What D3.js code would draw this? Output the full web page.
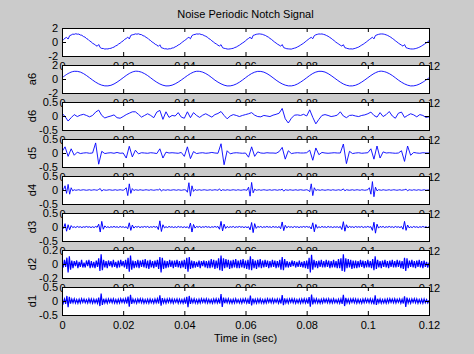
<!DOCTYPE html>
<html>
<head>
<meta charset="utf-8">
<script src="https://cdn.jsdelivr.net/npm/d3@7"></script>
<style>
  body { margin: 0; background: #cbcbcb; }
  svg { display: block; }
</style>
</head>
<body>
<div id="chart"></div>
<script>
// DATA
var tEnd = 0.12
var xTicks = [0, 0.02, 0.04, 0.06, 0.08, 0.1, 0.12]
var yTicksBig = [-2, 0, 2]
var yTicksHalf = [-0.5, 0, 0.5]
var yTicksD2 = [-0.2, 0, 0.2]

// original signal, one sample every 0.0005 s
var sig = [
  .20,.34,.55,.66,.42,.90,1.00,1.12,1.10,1.18,1.12,1.13,1.00,.96,.78,.70,.50,.38,.16,.03,-.18,-.30,-.47,-.60,-.36,-.80,-.92,-.93,-1.01,-.98,-.99,-.93,-.90,-.80,-.73,-.57,-.48,-.29,-.17,.02,
  .16,.38,.50,.70,.44,.95,1.03,1.07,1.16,1.12,1.17,1.08,1.05,.90,.83,.66,.55,.33,.20,-.02,-.14,-.33,-.43,-.62,-.40,-.83,-.88,-.97,-.97,-1.02,-.97,-.96,-.86,-.83,-.69,-.60,-.43,-.33,-.14,.03,
  .19,.35,.54,.67,.46,.92,1.04,1.08,1.15,1.13,1.16,1.07,1.04,.91,.82,.69,.50,.37,.17,.01,-.17,-.29,-.46,-.57,-.38,-.82,-.90,-.94,-1.00,-1.01,-.98,-.94,-.90,-.79,-.72,-.58,-.46,-.30,-.15,-.01,
  .17,.37,.51,.69,.43,.94,1.01,1.10,1.13,1.16,1.13,1.10,1.01,.94,.80,.69,.51,.37,.18,.00,-.15,-.32,-.44,-.60,-.37,-.81,-.89,-.96,-.98,-1.00,-1.01,-.94,-.88,-.82,-.70,-.59,-.45,-.31,-.17,.01,
  .19,.36,.53,.66,.47,.91,1.03,1.09,1.15,1.13,1.15,1.09,1.03,.92,.82,.67,.53,.35,.19,-.01,-.16,-.30,-.46,-.58,-.39,-.82,-.88,-.95,-.99,-.98,-1.00,-.95,-.89,-.80,-.72,-.58,-.44,-.32,-.16,.00,
  .18,.35,.52,.68,.45,.93,1.02,1.09,1.14,1.15,1.14,1.09,1.02,.93,.81,.68,.52,.36,.18,.02,-.16,-.31,-.45,-.59,-.37,-.81,-.89,-.95,-.99,-1.00,-.99,-.95,-.89,-.81,-.71,-.59,-.45,-.31,-.16,.00,
  .18
]

// approximation a6, every 0.002 s
var a6 = [
  .17,.78,1.10,.99,.50,-.15,-.70,-.98,-.90,-.45,
  .18,.79,1.11,.97,.49,-.17,-.71,-.99,-.88,-.44,
  .17,.77,1.10,.98,.51,-.16,-.69,-.99,-.89,-.46,
  .18,.78,1.09,.98,.50,-.16,-.70,-.98,-.90,-.45,
  .17,.79,1.10,.99,.49,-.15,-.71,-.99,-.89,-.44,
  .18,.78,1.11,.97,.50,-.16,-.70,-.99,-.88,-.45,
  .17
]

// details d6, d5 every 0.001 s
var d6 = [
  .10,-.02,-.18,-.06,.05,-.02,.03,.06,.02,-.03,
  .02,.14,.21,.02,-.07,-.03,.00,.04,-.06,-.08,
  -.02,.05,.10,.15,.15,.06,-.04,.02,.08,.02,
  -.06,.14,.20,-.12,.15,-.05,.02,.00,.12,-.04,
  -.08,.15,-.06,.12,.02,-.05,.03,.08,.02,-.04,
  .05,.09,.16,.02,-.10,.00,.05,.02,-.02,.02,
  .05,.08,.12,.03,-.02,-.03,.02,.00,-.02,.03,
  .06,.10,.27,-.10,-.25,-.08,.03,.04,.02,.06,
  .00,.22,-.05,-.28,-.12,.02,.05,.02,-.02,.00,
  .03,.15,.00,-.06,.02,.03,.00,-.02,.02,.04,
  .08,.14,.02,-.04,.12,-.02,.05,.16,.00,-.08,
  .10,.14,-.05,.02,.08,.04,-.03,.05,.02,-.05,
  -.03
]

var d5 = [
  .05,.22,-.12,.15,-.08,.03,-.02,.00,.01,-.01,
  .00,.36,-.40,.06,-.02,.00,.01,-.01,.02,-.01,
  .00,-.18,.24,-.14,.10,-.03,.01,.00,-.01,.01,
  .00,-.02,.15,-.18,.03,.00,.01,.00,-.01,.02,
  -.12,.22,-.20,.05,-.02,.00,.01,-.01,.00,.02,
  .00,-.01,.33,-.42,.08,-.03,.00,.01,.00,-.01,
  .00,-.15,.22,-.12,.04,.00,-.01,.01,.00,.00,
  -.01,.05,.20,-.22,.08,-.02,.00,.01,.00,.00,
  .01,.10,-.26,.18,-.06,.02,.00,-.01,.00,.01,
  .00,.00,.32,-.38,.06,-.02,.00,.01,-.01,.00,
  .01,.15,-.22,.25,-.18,.04,.00,.01,.00,-.01,
  .00,.08,-.30,.25,-.08,.02,.00,-.01,.01,.00,
  .00
]

// details d4, d3 every 0.0005 s
var d4 = [
  .00,.02,.15,-.12,.20,-.15,.08,-.03,.01,-.01,.00,.01,-.01,.00,.01,.00,-.01,.00,.01,-.01,
  .00,.01,.00,-.01,.02,.05,-.04,.01,.00,-.01,.00,.01,.00,-.01,.00,.01,-.01,.00,.01,.00,
  -.01,.02,.08,-.20,.22,-.12,.05,-.02,.01,.00,-.01,.01,.00,-.01,.00,.01,.00,-.01,.01,.00,
  -.01,.00,.01,.00,.04,-.04,.01,.00,-.01,.01,.00,-.01,.00,.01,.00,-.01,.01,.00,-.01,.00,
  .01,.00,-.08,.26,-.22,.15,-.05,.02,-.01,.00,.01,-.01,.00,.01,.00,-.01,.00,.01,-.01,.00,
  .01,.00,-.01,.04,-.03,.01,.00,-.01,.01,.00,-.01,.00,.01,.00,-.01,.01,.00,-.01,.00,.01,
  .00,-.01,.10,-.22,.27,-.10,.03,-.01,.00,.01,-.01,.00,.01,.00,-.01,.00,.01,-.01,.00,.01,
  .00,-.01,.01,.00,.03,-.04,.01,.00,-.01,.01,.00,-.01,.00,.01,-.01,.00,.01,.00,-.01,.00,
  .01,-.01,-.06,.22,-.20,.08,-.02,.01,.00,-.01,.01,.00,-.01,.00,.01,.00,-.01,.01,.00,-.01,
  .00,.01,-.01,.00,.04,-.03,.01,.00,-.01,.00,.01,-.01,.00,.01,.00,-.01,.01,.00,-.01,.00,
  .01,.08,-.15,.30,-.24,.10,-.03,.01,.00,-.01,.01,.00,-.01,.00,.01,-.01,.00,.01,.00,-.01,
  .00,.01,-.01,.00,.01,.03,-.03,.01,.00,-.01,.01,.00,-.01,.01,.00,-.01,.00,.01,-.01,.00,
  .00
]

var d3s = [
  .01,-.05,.12,-.15,.08,-.10,.05,-.02,.01,-.02,.02,-.01,.01,-.02,.01,-.01,.02,-.01,.01,-.02,
  .01,-.02,.02,-.01,.10,-.18,.20,-.08,.04,-.02,.01,-.02,.01,-.01,.02,-.01,.01,-.02,.02,-.01,
  .01,-.02,.01,-.06,.15,-.12,.07,-.04,.02,-.01,.02,-.02,.01,-.01,.02,-.01,.02,-.02,.01,-.01,
  .02,-.01,.02,-.09,.22,-.16,.08,-.03,.01,-.02,.02,-.01,.01,-.02,.01,-.02,.02,-.01,.01,-.02,
  .01,-.02,.01,-.05,.14,-.18,.09,-.04,.02,-.01,.02,-.02,.01,-.01,.02,-.01,.01,-.02,.01,-.01,
  .02,-.01,.02,-.08,.20,-.14,.10,-.05,.02,-.02,.01,-.01,.02,-.02,.01,-.01,.02,-.01,.01,-.02,
  .01,-.02,.01,-.10,.16,-.20,.12,-.05,.02,-.01,.02,-.02,.01,-.01,.02,-.01,.01,-.02,.02,-.01,
  .01,-.02,.02,-.06,.18,-.13,.06,-.03,.02,-.01,.01,-.02,.02,-.01,.01,-.02,.01,-.01,.02,-.01,
  .02,-.01,.01,-.07,.15,-.17,.09,-.04,.01,-.02,.02,-.01,.01,-.02,.02,-.01,.01,-.02,.01,-.01,
  .01,-.02,.02,-.09,.19,-.15,.08,-.03,.02,-.01,.01,-.02,.02,-.01,.01,-.01,.02,-.02,.01,-.01,
  .02,-.01,.01,-.12,.17,-.22,.10,-.04,.02,-.01,.02,-.02,.01,-.01,.02,-.01,.01,-.02,.02,-.01,
  .01,-.02,.02,-.08,.20,-.12,.07,-.03,.01,-.02,.02,-.01,.01,-.02,.01,-.01,.02,-.01,.01,-.02,
  .01
]

// details d2, d1 every 0.0004 s
var d2 = [
  .03,-.05,.06,-.04,.09,-.12,.11,-.08,.05,-.06,.04,-.03,.05,-.06,.03,-.04,.06,-.05,.02,-.05,
  .05,-.03,.06,-.06,.04,-.05,.03,-.06,.05,-.04,.08,-.10,.14,-.09,.06,-.05,.04,-.06,.05,-.03,
  .04,-.05,.06,-.04,.03,-.06,.05,-.05,.06,-.03,.04,-.05,.06,-.07,.09,-.11,.12,-.08,.05,-.06,
  .04,-.05,.06,-.06,.05,-.04,.06,-.05,.07,-.06,.05,-.07,.06,-.05,.04,-.06,.05,-.04,.06,-.07,
  .10,-.12,.09,-.07,.05,-.06,.04,-.05,.06,-.04,.05,-.06,.05,-.04,.06,-.05,.04,-.06,.05,-.05,
  .06,-.07,.09,-.11,.10,-.07,.05,-.06,.04,-.05,.03,-.04,.05,-.06,.04,-.03,.05,-.05,.04,-.06,
  .05,-.06,.07,-.05,.06,-.07,.05,-.06,.08,-.09,.12,-.10,.08,-.06,.07,-.05,.06,-.07,.05,-.06,
  .06,-.05,.07,-.06,.05,-.06,.06,-.05,.07,-.06,.05,-.07,.06,-.08,.11,-.09,.07,-.06,.05,-.07,
  .06,-.05,.07,-.06,.05,-.05,.06,-.04,.05,-.06,.04,-.05,.06,-.04,.05,-.06,.04,-.05,.06,-.08,
  .10,-.09,.07,-.05,.04,-.05,.03,-.04,.05,-.03,.04,-.05,.03,-.04,.05,-.04,.03,-.05,.04,-.06,
  .05,-.07,.09,-.12,.13,-.08,.06,-.05,.04,-.06,.05,-.04,.06,-.05,.04,-.05,.06,-.04,.05,-.06,
  .04,-.05,.06,-.05,.04,-.06,.07,-.06,.08,-.10,.14,-.11,.08,-.06,.07,-.05,.06,-.07,.05,-.06,
  .05,-.06,.04,-.05,.06,-.04,.05,-.06,.04,-.05,.06,-.05,.04,-.06,.07,-.09,.11,-.07,.06,-.05,
  .04,-.06,.05,-.04,.06,-.05,.04,-.06,.05,-.04,.06,-.05,.04,-.05,.06,-.04,.05,-.06,.04,-.07,
  .09,-.10,.08,-.06,.05,-.04,.06,-.05,.04,-.06,.05,-.04,.06,-.05,.04,-.06,.05,-.04,.03,-.05,
  .02
]

var d1 = [
  .06,-.08,.07,-.10,.18,-.22,.15,-.09,.07,-.06,.08,-.07,.05,-.08,.06,-.07,.08,-.05,.07,-.06,
  .05,-.07,.08,-.06,.07,-.08,.06,-.07,.05,-.08,.12,-.18,.27,-.14,.08,-.07,.06,-.08,.07,-.05,
  .07,-.06,.08,-.07,.05,-.08,.06,-.07,.08,-.05,.07,-.06,.08,-.09,.16,-.20,.22,-.10,.07,-.06,
  .06,-.08,.07,-.05,.08,-.06,.07,-.08,.05,-.07,.06,-.08,.07,-.06,.05,-.08,.07,-.06,.08,-.09,
  .20,-.17,.10,-.07,.06,-.08,.07,-.05,.08,-.06,.07,-.08,.06,-.05,.07,-.08,.06,-.07,.05,-.08,
  .07,-.09,.15,-.22,.18,-.10,.07,-.06,.08,-.07,.05,-.08,.06,-.07,.08,-.05,.07,-.06,.08,-.07,
  .06,-.07,.05,-.08,.07,-.06,.08,-.07,.06,-.09,.25,-.21,.12,-.08,.07,-.06,.08,-.07,.05,-.08,
  .06,-.07,.08,-.06,.05,-.07,.06,-.08,.07,-.05,.08,-.07,.06,-.10,.19,-.16,.09,-.07,.06,-.08,
  .07,-.06,.08,-.07,.05,-.08,.06,-.07,.08,-.05,.07,-.06,.08,-.07,.06,-.05,.07,-.08,.06,-.09,
  .21,-.15,.09,-.07,.06,-.08,.07,-.05,.08,-.06,.07,-.08,.05,-.07,.06,-.08,.07,-.06,.08,-.07,
  .06,-.09,.14,-.20,.23,-.12,.07,-.06,.08,-.07,.05,-.08,.06,-.07,.08,-.05,.07,-.06,.08,-.07,
  .06,-.07,.08,-.06,.05,-.07,.06,-.08,.07,-.10,.22,-.18,.11,-.07,.06,-.08,.07,-.05,.08,-.06,
  .07,-.08,.06,-.07,.05,-.08,.07,-.06,.08,-.05,.07,-.06,.08,-.07,.06,-.12,.20,-.14,.08,-.06,
  .07,-.08,.05,-.07,.06,-.08,.07,-.06,.08,-.05,.07,-.06,.08,-.07,.06,-.05,.07,-.08,.06,-.09,
  .17,-.21,.12,-.07,.06,-.08,.07,-.05,.08,-.06,.07,-.08,.05,-.07,.06,-.08,.07,-.06,.05,-.07,
  .03
]

var panels = [
  {name: '', values: sig, ticks: yTicksBig, lw: 0.9},
  {name: 'a6', values: a6, ticks: yTicksBig, lw: 0.9, smooth: true},
  {name: 'd6', values: d6, ticks: yTicksHalf, lw: 0.9},
  {name: 'd5', values: d5, ticks: yTicksHalf, lw: 0.9},
  {name: 'd4', values: d4, ticks: yTicksHalf, lw: 0.9},
  {name: 'd3', values: d3s, ticks: yTicksHalf, lw: 1},
  {name: 'd2', values: d2, ticks: yTicksD2, lw: 1.2},
  {name: 'd1', values: d1, ticks: yTicksHalf, lw: 1.2}
]

// GLOBAL
var width = 474
var height = 354
var margin = {top: 28, left: 62, right: 45}
var panelH = 28
var panelStep = 37
var font = "'Liberation Sans', Arial, Helvetica, sans-serif"
var lineColour = '#0000ff'

var svg = d3.select('#chart').append('svg')
  .attr('width', width)
  .attr('height', height)
  .style('background', '#cbcbcb')

var xMap = d3.scaleLinear()
  .domain([0, tEnd])
  .range([margin.left, width - margin.right])

// HELPERS

function styleAxis(g) {
  g.select('.domain').remove()
  g.selectAll('line').attr('stroke', '#000')
  g.selectAll('text')
    .attr('fill', '#000')
    .style('font-family', font)
    .style('font-size', '11px')
}

function label(v) {
  return String(v)
}

// FUNCTION

function drawPanel(p, i) {
  var top = margin.top + i * panelStep
  var bottom = top + panelH
  var yMap = d3.scaleLinear()
    .domain([p.ticks[0], p.ticks[p.ticks.length - 1]])
    .range([bottom, top])
  var dt = tEnd / (p.values.length - 1)

  var g = svg.append('g')

  g.append('rect')
    .attr('x', xMap(0))
    .attr('y', top)
    .attr('width', xMap(tEnd) - xMap(0))
    .attr('height', panelH)
    .style('fill', '#fff')

  g.append('clipPath')
    .attr('id', 'clip' + i)
    .append('rect')
    .attr('x', xMap(0))
    .attr('y', top)
    .attr('width', xMap(tEnd) - xMap(0))
    .attr('height', panelH)

  var line = d3.line()
    .x((d, j) => xMap(j * dt))
    .y(d => yMap(d))
  if (p.smooth) line.curve(d3.curveCatmullRom)

  g.append('path')
    .datum(p.values)
    .attr('clip-path', 'url(#clip' + i + ')')
    .attr('d', line)
    .style('fill', 'none')
    .style('stroke', lineColour)
    .style('stroke-width', p.lw)

  // box
  g.append('rect')
    .attr('x', xMap(0) + 0.5)
    .attr('y', top + 0.5)
    .attr('width', xMap(tEnd) - xMap(0))
    .attr('height', panelH)
    .style('fill', 'none')
    .style('stroke', '#000')
    .style('stroke-width', 1)

  var gx = g.append('g')
    .attr('transform', 'translate(0,' + bottom + ')')
    .call(d3.axisBottom(xMap).tickValues(xTicks).tickSizeInner(-4).tickSizeOuter(0)
      .tickPadding(6).tickFormat(label))
  styleAxis(gx)

  var gxTop = g.append('g')
    .attr('transform', 'translate(0,' + top + ')')
    .call(d3.axisTop(xMap).tickValues(xTicks).tickSizeInner(-4).tickSizeOuter(0).tickFormat(''))
  styleAxis(gxTop)

  var gy = g.append('g')
    .attr('transform', 'translate(' + xMap(0) + ',0)')
    .call(d3.axisLeft(yMap).tickValues(p.ticks).tickSizeInner(-4).tickSizeOuter(0)
      .tickPadding(4).tickFormat(label))
  styleAxis(gy)

  var gyRight = g.append('g')
    .attr('transform', 'translate(' + xMap(tEnd) + ',0)')
    .call(d3.axisRight(yMap).tickValues(p.ticks).tickSizeInner(-4).tickSizeOuter(0).tickFormat(''))
  styleAxis(gyRight)

  if (p.name) {
    g.append('text')
      .attr('transform', 'translate(36,' + (top + panelH / 2) + ') rotate(-90)')
      .attr('text-anchor', 'middle')
      .style('font-family', font)
      .style('font-size', '11px')
      .text(p.name)
  }
}

// MAIN
panels.forEach(drawPanel)

var midX = (xMap(0) + xMap(tEnd)) / 2

svg.append('text')
  .attr('x', midX)
  .attr('y', 18)
  .attr('text-anchor', 'middle')
  .style('font-family', font)
  .style('font-size', '11px')
  .text('Noise Periodic Notch Signal')

svg.append('text')
  .attr('x', midX)
  .attr('y', 342)
  .attr('text-anchor', 'middle')
  .style('font-family', font)
  .style('font-size', '11px')
  .text('Time in (sec)')
</script>
</body>
</html>
